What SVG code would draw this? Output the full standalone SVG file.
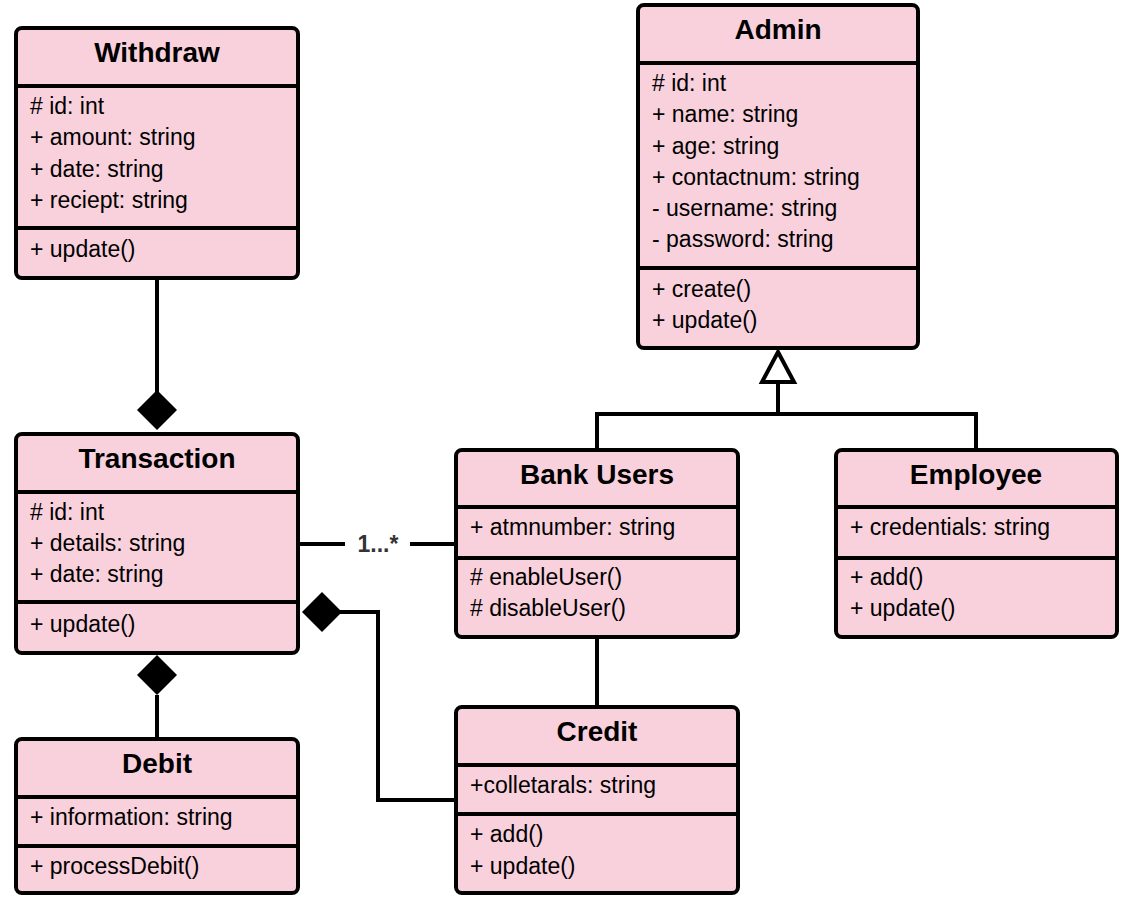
<svg xmlns="http://www.w3.org/2000/svg" width="1134" height="900" viewBox="0 0 1134 900">
<style>
.box{fill:#f9d1dc;stroke:#000;stroke-width:4}
.ln{stroke:#000;stroke-width:4;fill:none}
.t{font-family:"Liberation Sans",Arial,sans-serif;font-size:28px;font-weight:bold;text-anchor:middle}
.a{font-family:"Liberation Sans",Arial,sans-serif;font-size:23px}
.lbl{font-family:"Liberation Sans",Arial,sans-serif;font-size:23px;font-weight:bold;fill:#333;text-anchor:middle}
</style>
<rect width="1134" height="900" fill="#fff"/>
<g id="connectors">
<path class="ln" d="M157 278V392"/>
<path d="M157 390L177 410L157 430L137 410Z"/>
<path class="ln" d="M157 695V739"/>
<path d="M157 655L177 675L157 695L137 675Z"/>
<path class="ln" d="M340 612H378V800H456"/>
<path d="M302 612L322 592L342 612L322 632Z"/>
<path class="ln" d="M298 544H345M410 544H456"/>
<text class="lbl" x="378" y="552">1...*</text>
<path class="ln" d="M597 637V707"/>
<path class="ln" d="M778 382V414M597 450V414H976V450"/>
<path d="M778 352L794 382H762Z" fill="#fff" stroke="#000" stroke-width="4"/>
</g>
<g id="withdraw">
<rect class="box" x="16" y="28" width="282" height="250" rx="6"/>
<path class="ln" d="M16 86H298M16 228H298"/>
<text class="t" x="157" y="62">Withdraw</text>
<text class="a" x="30" y="114">#  id: int</text>
<text class="a" x="30" y="145">+ amount: string</text>
<text class="a" x="30" y="177">+ date: string</text>
<text class="a" x="30" y="208">+ reciept: string</text>
<text class="a" x="30" y="257">+ update()</text>
</g>
<g id="admin">
<rect class="box" x="638" y="5" width="280" height="343" rx="6"/>
<path class="ln" d="M638 63H918M638 268H918"/>
<text class="t" x="778" y="39">Admin</text>
<text class="a" x="652" y="91">#  id: int</text>
<text class="a" x="652" y="122">+ name: string</text>
<text class="a" x="652" y="154">+ age: string</text>
<text class="a" x="652" y="185">+ contactnum: string</text>
<text class="a" x="652" y="216">- username: string</text>
<text class="a" x="652" y="247">- password: string</text>
<text class="a" x="652" y="297">+ create()</text>
<text class="a" x="652" y="328">+ update()</text>
</g>
<g id="transaction">
<rect class="box" x="16" y="434" width="282" height="219" rx="6"/>
<path class="ln" d="M16 492H298M16 602H298"/>
<text class="t" x="157" y="468">Transaction</text>
<text class="a" x="30" y="520">#  id: int</text>
<text class="a" x="30" y="551">+ details: string</text>
<text class="a" x="30" y="582">+ date: string</text>
<text class="a" x="30" y="632">+ update()</text>
</g>
<g id="bankusers">
<rect class="box" x="456" y="450" width="282" height="187" rx="6"/>
<path class="ln" d="M456 507H738M456 558H738"/>
<text class="t" x="597" y="484">Bank Users</text>
<text class="a" x="470" y="535">+ atmnumber: string</text>
<text class="a" x="470" y="585">#  enableUser()</text>
<text class="a" x="470" y="616">#  disableUser()</text>
</g>
<g id="employee">
<rect class="box" x="836" y="450" width="281" height="187" rx="6"/>
<path class="ln" d="M836 507H1117M836 558H1117"/>
<text class="t" x="976" y="484">Employee</text>
<text class="a" x="850" y="535">+ credentials: string</text>
<text class="a" x="850" y="585">+ add()</text>
<text class="a" x="850" y="616">+ update()</text>
</g>
<g id="debit">
<rect class="box" x="16" y="739" width="282" height="154" rx="6"/>
<path class="ln" d="M16 797H298M16 846H298"/>
<text class="t" x="157" y="773">Debit</text>
<text class="a" x="30" y="825">+ information: string</text>
<text class="a" x="30" y="874">+ processDebit()</text>
</g>
<g id="credit">
<rect class="box" x="456" y="707" width="282" height="186" rx="6"/>
<path class="ln" d="M456 765H738M456 814H738"/>
<text class="t" x="597" y="741">Credit</text>
<text class="a" x="470" y="793">+colletarals: string</text>
<text class="a" x="470" y="842">+ add()</text>
<text class="a" x="470" y="874">+ update()</text>
</g>
</svg>
